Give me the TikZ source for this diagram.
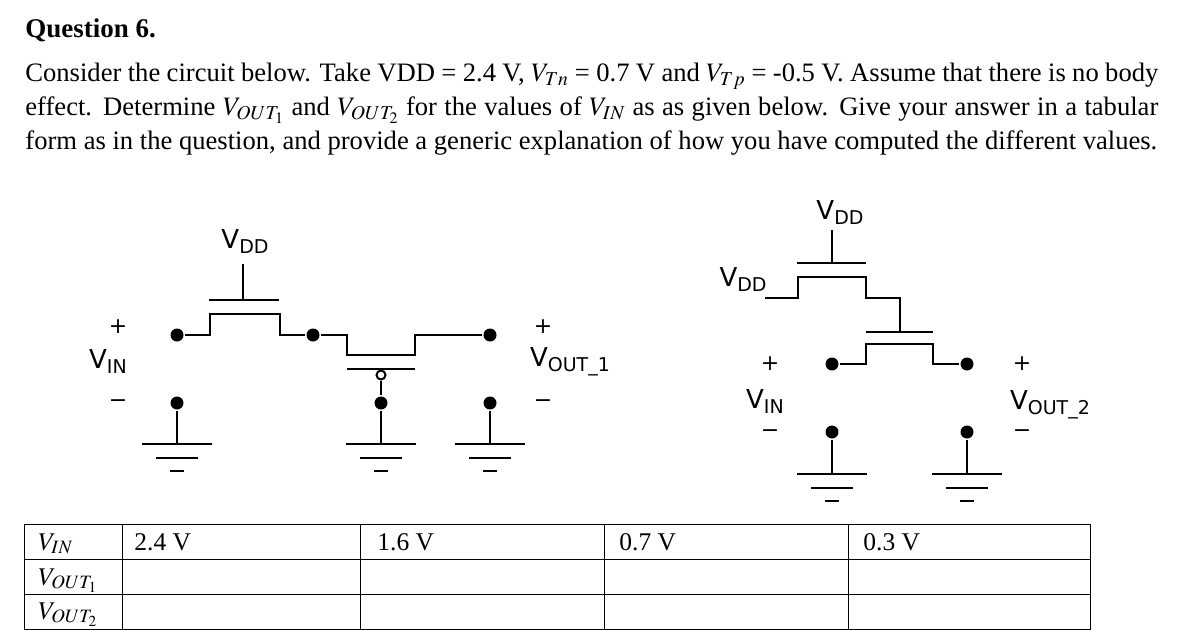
\documentclass[tikz,border=0pt]{standalone}
\usepackage{mathptmx}
\usepackage{fontspec}
\setmainfont{Liberation Serif}
\newfontfamily\sansf{DejaVu Sans}
\begin{document}
\begin{tikzpicture}[x=1pt,y=-1pt,line width=2.8pt,
  dot/.style={circle,fill=black,inner sep=0pt,minimum size=13pt},
  lbl/.style={inner sep=0pt,font=\sansf\fontsize{26}{26}\selectfont},
  pm/.style={inner sep=0pt,font=\sansf\fontsize{22}{22}\selectfont},
  txt/.style={inner sep=0pt,anchor=base west,font=\fontsize{25.5}{34}\selectfont}]
\useasboundingbox (0,0) rectangle (1187,643);
\node[txt,font=\bfseries\fontsize{27}{30}\selectfont] (title) at (24,37) {Question 6.};
\node[txt,anchor=north west,text width=1133pt,align=justify,font=\fontsize{26.6}{33.8}\selectfont] (para) at (24,62)
 {Consider the circuit below. Take VDD = 2.4 V, $V_{Tn}$ = 0.7 V and $V_{Tp}$ = -0.5 V. Assume that there is no body effect. Determine $V_{OUT_1}$ and $V_{OUT_2}$ for the values of $V_{IN}$ as as given below. Give your answer in a tabular form as in the question, and provide a generic explanation of how you have computed the different values.};
\newcommand{\gnd}[2]{\draw (#1-35,#2) -- (#1+35,#2); \draw (#1-21,#2+14) -- (#1+21,#2+14); \draw (#1-7,#2+27) -- (#1+7,#2+27);}
% circuit 1
\node[lbl] (vdd1) at (245,242) {V\raisebox{-0.35ex}{\fontsize{19}{19}\selectfont DD}};
\draw (243,264) -- (243,300);
\draw (209,300) -- (279,300);
\node[dot] (a) at (177,335) {};
\node[dot] (b) at (313,335) {};
\node[dot] (c) at (490,335) {};
\draw (a) -- (210,335) -- (210,314) -- (280,314) -- (280,335) -- (b);
\draw (b) -- (347,335) -- (347,355) -- (415,355) -- (415,335) -- (c);
\draw (347,369) -- (415,369);
\node[circle,draw,fill=white,inner sep=0pt,minimum size=9pt,line width=2pt] (bub) at (381,375) {};
\node[dot] (d) at (381,403) {};
\draw (bub) -- (d);
\draw (d) -- (381,444); \gnd{381}{444}
\node[dot] (e) at (177,403) {};
\draw (e) -- (177,444); \gnd{177}{444}
\node[dot] (f) at (490,403) {};
\draw (f) -- (490,444); \gnd{490}{444}
\node[pm] (p1) at (118,327) {+};
\node[lbl] (vin1) at (108,362) {V\raisebox{-0.35ex}{\fontsize{19}{19}\selectfont IN}};
\node[pm] (m1) at (118,404) {−};
\node[pm] (p2) at (543,327) {+};
\node[lbl] (vo1) at (570,362) {V\raisebox{-0.35ex}{\fontsize{19}{19}\selectfont OUT\_1}};
\node[pm] (m2) at (543,404) {−};
% circuit 2
\node[lbl] (vdd2) at (840,213) {V\raisebox{-0.35ex}{\fontsize{19}{19}\selectfont DD}};
\draw (832,230) -- (832,263);
\draw (797,263) -- (866,263);
\node[lbl,anchor=east] (vdd3) at (768,280) {V\raisebox{-0.35ex}{\fontsize{19}{19}\selectfont DD}};
\draw (765,298) -- (798,298) -- (798,277) -- (866,277) -- (866,298) -- (900,298) -- (900,332);
\draw (866,332) -- (933,332);
\node[dot] (h) at (832,364) {};
\node[dot] (i) at (967,364) {};
\draw (h) -- (866,364) -- (866,344) -- (933,344) -- (933,364) -- (i);
\node[dot] (j) at (832,432) {};
\draw (j) -- (832,474); \gnd{832}{474}
\node[dot] (k) at (967,432) {};
\draw (k) -- (967,474); \gnd{967}{474}
\node[pm] (p3) at (770,364) {+};
\node[lbl] (vin2) at (765,402) {V\raisebox{-0.35ex}{\fontsize{19}{19}\selectfont IN}};
\node[pm] (m3) at (770,434) {−};
\node[pm] (p4) at (1022,364) {+};
\node[lbl] (vo2) at (1050,405) {V\raisebox{-0.35ex}{\fontsize{19}{19}\selectfont OUT\_2}};
\node[pm] (m4) at (1022,434) {−};
% table
\draw[line width=1pt] (24,524) rectangle (1090,629);
\draw[line width=1pt] (24,559) -- (1090,559) (24,594) -- (1090,594);
\foreach \x in {122,360,604,848} \draw[line width=1pt] (\x,524) -- (\x,629);
\node[txt] (t1) at (37,550) {$V_{IN}$};
\node[txt] (t2) at (37,585) {$V_{OUT_1}$};
\node[txt] (t3) at (37,619) {$V_{OUT_2}$};
\node[txt] (t4) at (133,550) {2.4 V};
\node[txt] (t5) at (376,550) {1.6 V};
\node[txt] (t6) at (618,550) {0.7 V};
\node[txt] (t7) at (862,550) {0.3 V};
\end{tikzpicture}
\end{document}
